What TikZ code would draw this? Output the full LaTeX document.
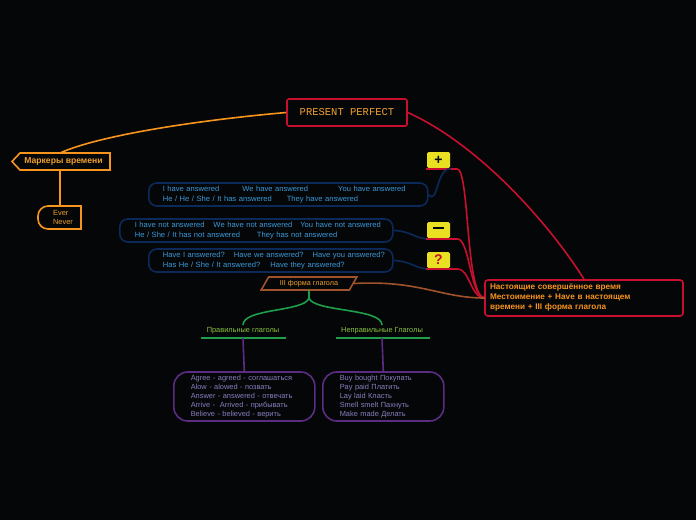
\documentclass[tikz,border=0pt]{standalone}
\usepackage{fontspec}
\setmainfont{Liberation Sans}
\newfontfamily\monof{Liberation Mono}
\usetikzlibrary{shapes.geometric}
\definecolor{bg}{HTML}{050608}
\definecolor{rd}{HTML}{C8102E}
\definecolor{org}{HTML}{F7941D}
\definecolor{otx}{HTML}{F0A030}
\definecolor{yl}{HTML}{E8E020}
\definecolor{bb}{HTML}{0B2A5A}
\definecolor{bt}{HTML}{3A9AD9}
\definecolor{br}{HTML}{A0522D}
\definecolor{gr}{HTML}{1E9E4A}
\definecolor{gt}{HTML}{8CC63F}
\definecolor{pu}{HTML}{5A2D82}
\definecolor{pt}{HTML}{8A7FC0}
\tikzset{
 every path/.style={line width=1.6pt},
 bluebox/.style={draw=bb,line width=1.6pt,rounded corners=8pt,text=bt,font=\fontsize{7.6}{9.5}\selectfont,align=left,inner ysep=0pt,minimum height=23pt},
 purbox/.style={draw=pu,line width=1.6pt,rounded corners=14pt,text=pt,font=\fontsize{7.4}{9}\selectfont,align=left,inner ysep=0pt,minimum height=49pt},
 sign/.style={fill=yl,rounded corners=1.5pt,minimum width=23pt,minimum height=16pt,inner sep=0pt,font=\bfseries\fontsize{14}{14}\selectfont},
 glab/.style={text=gt,font=\fontsize{7.4}{8}\selectfont,inner sep=1pt},
}
\begin{document}
\begin{tikzpicture}[x=1pt,y=-1pt]
\fill[bg] (0,0) rectangle (696,520);
\useasboundingbox (0,0) rectangle (696,520);
% nodes
\node[draw=rd,rounded corners=2pt,minimum width=120pt,minimum height=27pt,text=otx,font=\monof\fontsize{10.5}{10}\selectfont] (pp) at (347,112.5) {PRESENT PERFECT};
\draw[org,fill=bg] (20,153) -- (110,153) -- (110,170) -- (20,170) -- (12,161.5) -- cycle;
\node[text=otx,font=\bfseries\fontsize{8.6}{9}\selectfont] (mk) at (63.5,161.5) {Маркеры времени};
\coordinate (mktop) at (60,153);
\coordinate (mkbot) at (60,170);
\draw[org,fill=bg] (81,229) -- (81,206) [rounded corners=10pt] -- (38,206) -- (38,229) [sharp corners] -- cycle;
\node[text=otx,font=\fontsize{7.4}{9}\selectfont,align=left] (ev) at (63,217.5) {Ever\\Never};
\coordinate (evtop) at (60,206);
\node[sign,text=bg] (plus) at (438.5,160) {+};
\node[sign,text=bg] (minus) at (438.5,230) {\rule[0.25em]{0.75em}{1.8pt}};
\node[sign,text=rd] (q) at (438.5,260) {?};
\foreach \s in {plus,minus,q} \draw[rd] (\s.south west) -- ([xshift=6pt]\s.south east) coordinate (\s u);
\node[bluebox,inner xsep=14pt,text width=251pt,anchor=west] (b1) at (148,194.5) {\mbox{I have answered\hspace{23pt}We have answered\hspace{30pt}You have answered}\\\mbox{He / He / She / It has answered\hspace{15pt}They have answered}};
\node[bluebox,inner xsep=15pt,text width=243pt,anchor=west] (b2) at (119,230.5) {\mbox{I have not answered\hspace{9pt}We have not answered\hspace{8pt}You have not answered}\\\mbox{He / She / It has not answered\hspace{17pt}They has not answered}};
\node[bluebox,inner xsep=14pt,text width=216pt,anchor=west] (b3) at (148,260.5) {\mbox{Have I answered?\hspace{9pt}Have we answered?\hspace{9pt}Have you answered?}\\\mbox{Has He / She / It answered?\hspace{10pt}Have they answered?}};
\node[trapezium,trapezium left angle=60,trapezium right angle=120,draw=br,minimum height=13pt,inner xsep=-2pt,inner ysep=1pt,text=otx,font=\fontsize{7.2}{8}\selectfont] (iii) at (309,283.5) {III форма глагола};
\node[draw=rd,rounded corners=3pt,minimum width=198pt,minimum height=36pt,text width=188pt,inner sep=0pt,align=left,text=org,font=\bfseries\fontsize{8.2}{10}\selectfont] (big) at (584,298) {Настоящие совершённое время\\Местоимение + Have в настоящем\\времени + III форма глагола};
\node[glab] (reg) at (243,331) {Правильные глаголы};
\node[glab] (irr) at (382,331) {Неправильные Глаголы};
\draw[gr] (201,338) -- (286,338);
\draw[gr] (336,338) -- (430,338);
\coordinate (regb) at (243,338); \coordinate (irrb) at (382,338);
\node[purbox,inner xsep=17pt,text width=107pt,anchor=west] (p1) at (173,396.5) {Agree - agreed - соглашаться\\Alow - alowed - позвать\\Answer - answered - отвечать\\Arrive -\ \ Arrived - прибывать\\Believe - believed - верить};
\node[purbox,inner xsep=17pt,text width=87pt,anchor=west] (p2) at (322,396.5) {Buy bought Покупать\\Pay paid Платить\\Lay laid Класть\\Smell smelt Пахнуть\\Make made Делать};
% connectors
\draw[org] (pp.west) .. controls (200,120) and (100,135) .. (mktop);
\draw[org] (mkbot) -- (evtop);
\draw[rd] (pp.east) .. controls (480,145) and (550,225) .. (big.north);
\coordinate (bl) at (485,298);
\draw[rd] (bl) .. controls (465,298) and (470,168) .. (plusu);
\draw[rd] (bl) .. controls (470,298) and (470,238) .. (minusu);
\draw[rd] (bl) .. controls (470,298) and (470,268) .. (qu);
\draw[bb] (plus.south east) .. controls (436,168) and (438,206) .. (b1.east);
\draw[bb] (b2.east) .. controls (410,231) and (415,238) .. (minus.south west);
\draw[bb] (b3.east) .. controls (410,261) and (415,268) .. (q.south west);
\draw[br] (iii.east) .. controls (420,280) and (440,298) .. (bl);
\coordinate (iiib) at (309,290);
\draw[gr] (iiib) -- (309,298) .. controls (305,312) and (243,308) .. (243,325);
\draw[gr] (309,298) .. controls (313,312) and (382,308) .. (382,325);
\draw[pu] (regb) -- (p1.north);
\draw[pu] (irrb) -- (p2.north);
\end{tikzpicture}
\end{document}
